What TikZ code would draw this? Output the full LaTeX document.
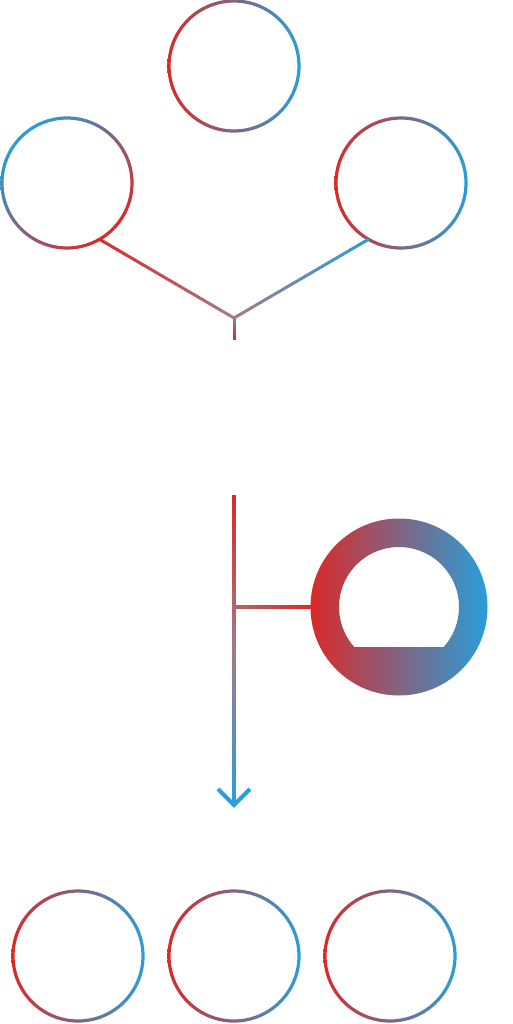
\documentclass[tikz,border=0pt]{standalone}
\usetikzlibrary{calc}
\definecolor{cred}{RGB}{218,42,40}
\definecolor{cmid}{RGB}{165,122,135}
\definecolor{cblue}{RGB}{40,158,218}
\newcommand{\gradline}[5]{%
  \foreach \k in {1,...,30}{%
    \pgfmathsetmacro\mixp{100-100*(\k-0.5)/30}%
    \draw[line width=#5, color=#3!\mixp!#4, shorten >=-0.4pt]
      ($(#1)!{(\k-1)/30}!(#2)$) -- ($(#1)!{\k/30}!(#2)$);
  }}

\begin{document}
\begin{tikzpicture}[x=1pt,y=-1pt]
\tikzstyle{circ}=[circle,minimum size=130pt,inner sep=0pt,outer sep=0pt];
\tikzstyle{hring}=[left color=cred,middle color=cmid,right color=cblue,even odd rule];
\tikzstyle{dring}=[top color=cblue,middle color=cmid,bottom color=cred,shading angle=45,even odd rule];
\useasboundingbox (0,0) rectangle (512,1024);

\node [circ] (s1) at (234,66) {};
\node [circ] (s2) at (67,183) {};
\node [circ] (s3) at (401,183) {};
\coordinate (j) at (234,318);
\coordinate (j2) at (234,340);

\node [circle,minimum size=177pt,inner sep=0pt,outer sep=0pt] (ring) at (399,607) {};
\coordinate (a1) at (234,495);
\coordinate (a2) at (234,805);
\coordinate (am) at ($(a1)!0.5!(a2)$);
\coordinate (h) at (a1 |- ring);

\node [circ] (b1) at (78,956) {};
\node [circ] (b2) at (234,956) {};
\node [circ] (b3) at (390,956) {};

\foreach \n in {s1,s3,b1,b2,b3}
  \shade [hring] (\n) circle (66.6) (\n) circle (63.4);
\shade [dring] (s2) circle (66.6) (s2) circle (63.4);

\gradline{s2.300}{j}{cred}{cmid}{3pt}
\gradline{s3.240}{j}{cblue}{cmid}{3pt}
\gradline{j}{j2}{cmid!60!cblue}{cred}{3pt}

\shade [hring] (ring) circle (88.5)
  ($(ring)+(138.19:60)$) arc[start angle=138.19,end angle=401.81,radius=60] -- cycle;

\gradline{h}{ring.west}{cmid!72!cred}{cred}{4pt}
\gradline{a1}{am}{cred}{cmid}{4pt}
\gradline{am}{a2}{cmid}{cblue}{4pt}
\draw [cblue,line width=4pt] ($(a2)+(-16,-16)$) -- (a2) -- ($(a2)+(16,-16)$);
\end{tikzpicture}
\end{document}
